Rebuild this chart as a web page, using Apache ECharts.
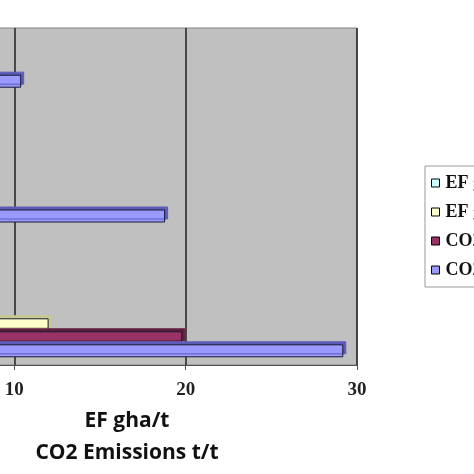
<!DOCTYPE html>
<html>
<head>
<meta charset="utf-8">
<script src="https://cdn.jsdelivr.net/npm/echarts@6/dist/echarts.min.js"></script>
<style>
  html, body { margin: 0; padding: 0; background: #fff; }
  #main { width: 474px; height: 474px; }
</style>
</head>
<body>
<div id="main"></div>
<script>
// categories, bottom to top
var categories = ['P1', 'P2', 'P3', 'P4', 'P5'];
// series values (the left part of the chart is cropped away in the reference)
var co2Blue = [29.2, 6.5, 18.8, 5.8, 10.4];
var co2Red = [19.8, 3.2, 7.4, 2.6, 4.1];
var efYellow = [12.0, 2.1, 5.3, 1.7, 2.9];
var efCyan = [6.4, 1.2, 3.1, 0.9, 1.6];
var seriesNames = ['EF gha/t (a)', 'EF gha/t (b)', 'CO2 t/t (a)', 'CO2 t/t (b)'];
var xTicks = [0, 10, 20, 30];

var myChart = echarts.init(document.getElementById('main'));

function barSeries(name, data, color, depth) {
    return {
        name: name,
        type: 'bar',
        data: data,
        barWidth: 13,
        barGap: '0%',
        itemStyle: {
            color: color,
            borderColor: '#1a1a33',
            borderWidth: 1,
            shadowColor: depth,
            shadowOffsetX: 3,
            shadowOffsetY: -3,
            shadowBlur: 0
        }
    };
}

var option = {
    backgroundColor: '#ffffff',
    animation: false,
    grid: {
        left: -157,
        right: 117,
        top: 28,
        bottom: 109,
        outerBoundsMode: 'none',
        containLabel: false,
        show: true,
        backgroundColor: '#c0c0c0',
        borderColor: '#808080',
        borderWidth: 1
    },
    legend: {
        orient: 'vertical',
        left: 425,
        top: 166,
        data: [seriesNames[0], seriesNames[1], seriesNames[2], seriesNames[3]],
        icon: 'rect',
        itemWidth: 8,
        itemHeight: 8,
        itemGap: 11,
        padding: [8, 60, 8, 6],
        borderColor: '#999',
        borderWidth: 1,
        backgroundColor: '#fff',
        itemStyle: { borderColor: '#000', borderWidth: 1 },
        textStyle: {
            fontFamily: 'Liberation Serif',
            fontWeight: 'bold',
            fontSize: 18,
            color: '#111',
            padding: [0, 0, 0, 1]
        }
    },
    xAxis: {
        type: 'value',
        min: xTicks[0],
        max: xTicks[xTicks.length - 1],
        interval: 10,
        name: 'EF gha/t\nCO2 Emissions t/t',
        nameLocation: 'middle',
        nameGap: 36,
        nameTextStyle: {
            fontFamily: 'Open Sans',
            fontWeight: 'bold',
            fontSize: 21,
            lineHeight: 32,
            color: '#111',
            align: 'center',
            verticalAlign: 'top',
            padding: [0, 0, 0, 54]
        },
        axisLine: { show: true, lineStyle: { color: '#555', width: 1 } },
        axisTick: { show: true, length: 5, lineStyle: { color: '#555' } },
        axisLabel: {
            margin: 16,
            fontFamily: 'Liberation Serif',
            fontWeight: 'bold',
            fontSize: 19,
            color: '#222'
        },
        splitLine: { show: true, lineStyle: { color: '#222', width: 1.5 } }
    },
    yAxis: {
        type: 'category',
        data: categories,
        axisLine: { show: false },
        axisTick: { show: false },
        axisLabel: { show: false }
    },
    // first series is drawn at the top of each group, so blue goes last
    series: [
        barSeries(seriesNames[0], efCyan, '#ccffff', '#8fc4c4'),
        barSeries(seriesNames[1], efYellow, '#ffffcc', '#c8c890'),
        barSeries(seriesNames[2], co2Red, '#993366', '#5e1f3f'),
        barSeries(seriesNames[3], co2Blue, '#9999ff', '#5c5cb8')
    ]
};

myChart.setOption(option);
</script>
</body>
</html>
